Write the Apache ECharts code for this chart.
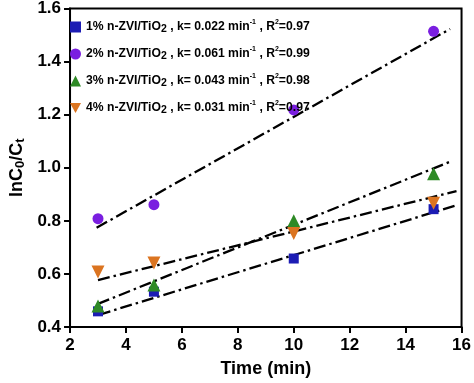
<!DOCTYPE html>
<html><head><meta charset="utf-8">
<script src="https://cdn.jsdelivr.net/npm/echarts@6/dist/echarts.min.js"></script>
<style>html,body{margin:0;padding:0;background:#fff}#c{width:474px;height:383px}</style>
</head><body><div id="c"></div>
<script>
const times = [3, 5, 10, 15];
const s1 = [0.459, 0.533, 0.658, 0.844];
const s2 = [0.808, 0.861, 1.218, 1.514];
const s3 = [0.479, 0.558, 0.800, 0.977];
const s4 = [0.607, 0.641, 0.752, 0.866];
const fit1 = [[3.03, 0.446], [15.8, 0.858]];
const fit2 = [[2.95, 0.774], [15.59, 1.523]];
const fit3 = [[3.0, 0.487], [15.55, 1.021]];
const fit4 = [[3.0, 0.577], [15.82, 0.912]];
const names = ['1%', '2%', '3%', '4%'];
const kVals = ['0.022', '0.061', '0.043', '0.031'];
const r2Vals = ['0.97', '0.99', '0.98', '0.97'];
const colors = ['#1c1cb4', '#7a1ee0', '#2e8a26', '#db7420'];
const symbols = ['rect', 'circle', 'triangle', 'triangle'];
const legendIcons = ['rect', 'circle', 'triangle', 'path://M0,0 L10,0 L5,9 Z'];
const rotates = [0, 0, 0, 180];
const sizes = [10, 11, 13, 13];
const allS = [s1, s2, s3, s4];
const fits = [fit1, fit2, fit3, fit4];

const FONT = 'Liberation Sans, Arial, sans-serif';
const seriesNames = names.map((n, i) => n + ' n-ZVI/TiO2 , k= ' + kVals[i] + ' min-1 , R2=' + r2Vals[i]);
const series = [];
allS.forEach((arr, i) => {
  series.push({
    name: seriesNames[i], type: 'scatter', symbol: symbols[i], symbolRotate: rotates[i],
    symbolSize: sizes[i], itemStyle: {color: colors[i], opacity: 1},
    data: times.map((t, j) => [t, arr[j]]), z: 3
  });
});
fits.forEach((f, i) => {
  series.push({
    name: 'fit' + i, type: 'line', data: f, symbol: 'none', silent: true,
    lineStyle: {color: '#000', width: 2.3, type: [12, 4, 2.5, 4]}, z: 2
  });
});
const chart = echarts.init(document.getElementById('c'), null, {renderer: 'canvas'});
chart.setOption({
  animation: false,
  grid: {left: 62, right: 11, top: 7.5, bottom: 51, show: true, borderColor: '#000', borderWidth: 2},
  legend: {
    data: seriesNames.map((n, i) => ({name: n, icon: legendIcons[i]})),
    orient: 'vertical', left: 70, top: 19, itemWidth: 11, itemHeight: 11,
    itemGap: 11, padding: 0,
    formatter: function (name) {
      const i = seriesNames.indexOf(name);
      return '{t|' + names[i] + ' n-ZVI/TiO}{sub|2}{t| , k= ' + kVals[i] + ' min}{sup|-1}{t| , R}{sup|2}{t|=' + r2Vals[i] + '}';
    },
    textStyle: {
      fontFamily: FONT, fontWeight: 'bold', color: '#000', fontSize: 12.2, lineHeight: 16,
      rich: {
        t: {fontFamily: FONT, fontWeight: 'bold', fontSize: 12.2, color: '#000', lineHeight: 16},
        sub: {fontFamily: FONT, fontWeight: 'bold', fontSize: 10.5, color: '#000', verticalAlign: 'bottom', lineHeight: 16, padding: [5, 0, 0, 0]},
        sup: {fontFamily: FONT, fontWeight: 'bold', fontSize: 7, color: '#000', verticalAlign: 'top', lineHeight: 16, padding: [0, 0, 5, 0]}
      }
    }
  },
  xAxis: {
    type: 'value', min: 2, max: 16, interval: 2,
    name: 'Time (min)', nameLocation: 'middle', nameGap: 33,
    nameTextStyle: {fontFamily: FONT, fontWeight: 'bold', fontSize: 18, color: '#000'},
    axisLine: {lineStyle: {color: '#000', width: 2}},
    axisTick: {inside: false, length: 6, lineStyle: {color: '#000', width: 2}},
    axisLabel: {fontFamily: FONT, fontWeight: 'bold', fontSize: 17, color: '#000', margin: 10},
    splitLine: {show: false}
  },
  yAxis: {
    type: 'value', min: 0.4, max: 1.6, interval: 0.2,
    name: 'lnC{sub|0}/C{sub|t}', nameLocation: 'middle', nameGap: 40, nameRotate: 90,
    nameTextStyle: {
      fontFamily: FONT, fontWeight: 'bold', fontSize: 18, color: '#000',
      rich: {sub: {fontFamily: FONT, fontWeight: 'bold', fontSize: 13, color: '#000', verticalAlign: 'bottom', padding: [6, 0, 0, 0]}}
    },
    axisLine: {lineStyle: {color: '#000', width: 2}},
    axisTick: {inside: false, length: 6, lineStyle: {color: '#000', width: 2}},
    axisLabel: {fontFamily: FONT, fontWeight: 'bold', fontSize: 17, color: '#000', margin: 9,
      formatter: v => v.toFixed(1)},
    splitLine: {show: false}
  },
  series: series
});
</script></body></html>
